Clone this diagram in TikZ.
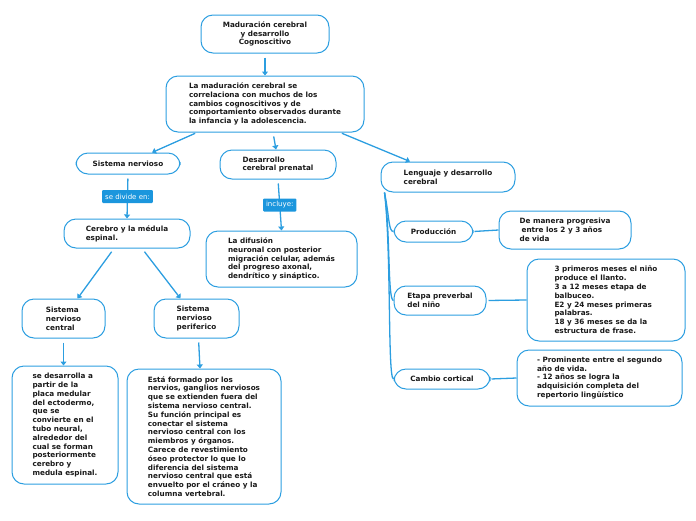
\documentclass[tikz,border=0pt]{standalone}
\usepackage{fontspec}
\setmainfont{DejaVu Sans}
\usetikzlibrary{arrows.meta}
\definecolor{azul}{RGB}{44,158,224}
\definecolor{azulet}{RGB}{27,150,221}
\tikzset{
  caja/.style={draw=azul,line width=1pt,rounded corners=12pt,align=left,text=black!90,
    font=\fontsize{7.25}{8.8}\selectfont\bfseries},
  etiq/.style={fill=azulet,text=white,font=\fontsize{7}{7}\selectfont,inner xsep=3pt,
    minimum height=13pt,inner ysep=1pt,rounded corners=1pt},
  flecha/.style={azul,line width=1.3pt,-{Triangle[width=6pt,length=4pt]}},
  linea/.style={azul,line width=1.3pt},
}
\begin{document}
\begin{tikzpicture}[x=1pt,y=-1pt]
	\useasboundingbox (0,0) rectangle (696,520);
	% raiz
	\node[caja,align=center,minimum width=128pt,minimum height=38pt] (tit) at (265,34) {Maduración cerebral\\ y desarrollo\\ Cognoscitivo};
	\node[caja,minimum width=198pt,minimum height=56pt] (mad) at (265,104) {La maduración cerebral se\\ correlaciona con muchos de los\\ cambios cognoscitivos y de\\ comportamiento observados durante\\ la infancia y la adolescencia.};
	% ramas
	\node[caja,minimum width=104pt,minimum height=21pt] (sn) at (128,163.5) {Sistema nervioso};
	\node[caja,minimum width=116pt,minimum height=29pt] (des) at (278,164.5) {Desarrollo\\ cerebral prenatal};
	\node[caja,minimum width=134pt,minimum height=30pt] (len) at (448,177) {Lenguaje y desarrollo\\ cerebral};
	\node[caja,minimum width=126pt,minimum height=29pt] (cer) at (127,233.5) {Cerebro y la médula\\ espinal.};
	\node[caja,minimum width=151pt,minimum height=56pt] (dif) at (281.5,259) {La difusión\\ neuronal con posterior\\ migración celular, además\\ del progreso axonal,\\ dendrítico y sináptico.};
	\node[caja,minimum width=83pt,minimum height=39pt] (snc) at (63.5,318.5) {Sistema\\ nervioso\\ central};
	\node[caja,minimum width=85pt,minimum height=39pt] (snp) at (196.5,318.5) {Sistema\\ nervioso\\ periferico};
	\node[caja,minimum width=106pt,minimum height=118pt] (sdes) at (65,425) {se desarrolla a\\ partir de la\\ placa medular\\ del ectodermo,\\ que se\\ convierte en el\\ tubo neural,\\ alrededor del\\ cual se forman\\ posteriormente\\ cerebro y\\ medula espinal.};
	\node[caja,minimum width=154pt,minimum height=135pt] (form) at (204,436.5) {Está formado por los\\ nervios, ganglios nerviosos\\ que se extienden fuera del\\ sistema nervioso central.\\ Su función principal es\\ conectar el sistema\\ nervioso central con los\\ miembros y órganos.\\ Carece de revestimiento\\ óseo protector lo que lo\\ diferencia del sistema\\ nervioso central que está\\ envuelto por el cráneo y la\\ columna vertebral.};
	% lenguaje
	\node[caja,minimum width=79pt,minimum height=21pt] (pro) at (433.5,231.5) {Producción};
	\node[caja,minimum width=132pt,minimum height=38pt] (prot) at (565,230) {De manera progresiva\\ \hspace{2pt}entre los 2 y 3 años\\ de vida};
	\node[caja,minimum width=92pt,minimum height=29pt] (eta) at (440,300.5) {Etapa preverbal\\ del niño};
	\node[caja,minimum width=158pt,minimum height=82pt] (etat) at (606,300) {3 primeros meses el niño\\ produce el llanto.\\ 3 a 12 meses etapa de\\ balbuceo.\\ E2 y 24 meses primeras\\ palabras.\\ 18 y 36 meses se da la\\ estructura de frase.};
	\node[caja,minimum width=96pt,minimum height=20pt] (cor) at (442,379) {Cambio cortical};
	\node[caja,minimum width=165pt,minimum height=56pt] (cort) at (599.5,378) {- Prominente entre el segundo\\ año de vida.\\ - 12 años se logra la\\ adquisición completa del\\ repertorio lingüístico};
	% conectores
	\draw[flecha,shorten <=4pt] (tit) -- (mad);
	\draw[flecha,shorten <=2pt] ([xshift=-68pt]mad.south) -- ([xshift=24pt]sn.north);
	\draw[flecha,shorten <=4pt] ([xshift=8pt]mad.south) -- ([xshift=-2pt]des.north);
	\draw[flecha,shorten <=2pt] ([xshift=75pt]mad.south) -- ([xshift=-38pt]len.north);
	\draw[flecha,shorten <=4pt] (sn.south) -- node[etiq]{se divide en:} (cer.north);
	\draw[flecha,shorten <=4pt] (des.south) -- node[etiq]{incluye:} (dif.north);
	\draw[flecha,shorten <=4pt] ([xshift=-13pt]cer.south) -- ([xshift=14pt]snc.north);
	\draw[flecha,shorten <=4pt] ([xshift=15pt]cer.south) -- ([xshift=-16pt]snp.north);
	\draw[flecha,shorten <=4pt] (snc.south) -- (snc.south |- sdes.north);
	\draw[flecha,shorten <=4pt] ([xshift=2pt]snp.south) -- ([xshift=-4pt]form.north);
	\draw[linea] ([xshift=4pt]len.south west) .. controls ([xshift=9pt,yshift=-25pt]len.south west) and ([xshift=-5pt]pro.west) .. (pro.west);
	\draw[linea] ([xshift=4pt]len.south west) .. controls ([xshift=10pt,yshift=-40pt]len.south west) and ([xshift=-6pt]eta.west) .. (eta.west);
	\draw[linea] ([xshift=4pt]len.south west) .. controls ([xshift=11pt,yshift=-60pt]len.south west) and ([xshift=-6pt]cor.west) .. (cor.west);
	\draw[linea,shorten <=1pt] (pro.east) -- (prot.west);
	\draw[linea,shorten <=2pt] (eta.east) -- (etat.west);
	\draw[linea,shorten <=1pt] (cor.east) -- (cort.west);
\end{tikzpicture}
\end{document}
